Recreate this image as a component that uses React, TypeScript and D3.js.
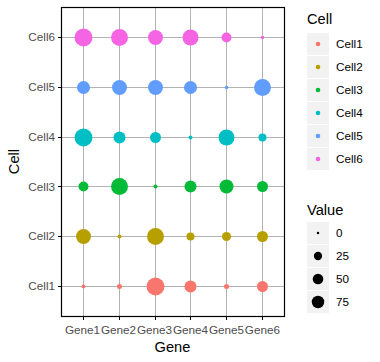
import React from "react";
import * as d3 from "d3";

const genes = ["Gene1", "Gene2", "Gene3", "Gene4", "Gene5", "Gene6"];
const cells = ["Cell1", "Cell2", "Cell3", "Cell4", "Cell5", "Cell6"];
const cellColors = ["#F8766D", "#B79F00", "#00BA38", "#00BFC4", "#619CFF", "#F564E3"];

// values per cell, in gene order
const cell1Values = [1.7, 4.7, 180, 68, 4.7, 54];
const cell2Values = [117, 1.7, 157, 23, 32, 54];
const cell3Values = [42, 157, 1.7, 68, 99, 54];
const cell4Values = [180, 68, 54, 1.7, 136, 23];
const cell5Values = [83, 117, 117, 83, 0.8, 157];
const cell6Values = [180, 157, 117, 136, 42, 0.8];
const cellValues = [cell1Values, cell2Values, cell3Values, cell4Values, cell5Values, cell6Values];

const sizeBreaks = [0, 25, 50, 75];

const W = 380;
const H = 362;
const panel = { left: 61, right: 284, top: 7, bottom: 316 };
const font = "'Liberation Sans', Arial, sans-serif";

export default function App() {
  const x = d3.scalePoint().domain(genes).range([panel.left, panel.right]).padding(0.6);
  const y = d3.scalePoint().domain(cells).range([panel.bottom, panel.top]).padding(0.6);
  const r = d3.scaleSqrt().domain([0, 180]).range([1.25, 9]);
  // snap hairlines onto pixel centres
  const px = (v: number) => Math.round(v) + 0.5;

  const points = cells.flatMap((c, i) =>
    genes.map((g, j) => ({ cell: c, gene: g, value: cellValues[i][j], color: cellColors[i] }))
  );

  const legX = 307;
  const keyW = 22;

  return (
    <svg width={W} height={H} style={{ position: "absolute", left: 0, top: 0 }} fontFamily={font}>
      <rect width={W} height={H} fill="#fff" />
      {/* grid */}
      {genes.map((g) => (
        <line key={g} x1={px(x(g)!)} x2={px(x(g)!)} y1={panel.top} y2={panel.bottom} stroke="#b3b3b3" strokeWidth={1} />
      ))}
      {cells.map((c) => (
        <line key={c} y1={px(y(c)!)} y2={px(y(c)!)} x1={panel.left} x2={panel.right} stroke="#b3b3b3" strokeWidth={1} />
      ))}
      {points.map((p) => (
        <circle key={p.cell + p.gene} cx={px(x(p.gene)!)} cy={px(y(p.cell)!)} r={r(p.value)} fill={p.color} />
      ))}
      <rect
        x={panel.left + 0.5}
        y={panel.top + 0.5}
        width={panel.right - panel.left}
        height={panel.bottom - panel.top}
        fill="none"
        stroke="#000"
        strokeWidth={1.2}
      />
      {/* x axis */}
      {genes.map((g) => (
        <g key={g}>
          <line x1={px(x(g)!)} x2={px(x(g)!)} y1={panel.bottom} y2={panel.bottom + 4} stroke="#000" />
          <text x={x(g)} y={334} textAnchor="middle" fontSize={11.7} fill="#4d4d4d">
            {g}
          </text>
        </g>
      ))}
      {/* y axis */}
      {cells.map((c) => (
        <g key={c}>
          <line x1={panel.left - 3} x2={panel.left} y1={px(y(c)!)} y2={px(y(c)!)} stroke="#000" />
          <text x={55} y={y(c)} dy="0.35em" textAnchor="end" fontSize={11.7} fill="#4d4d4d">
            {c}
          </text>
        </g>
      ))}
      <text x={(panel.left + panel.right) / 2} y={352} textAnchor="middle" fontSize={14.67} fill="#000">
        Gene
      </text>
      <text
        transform={`translate(19, ${(panel.top + panel.bottom) / 2}) rotate(-90)`}
        textAnchor="middle"
        fontSize={14.67}
        fill="#000"
      >
        Cell
      </text>

      {/* colour legend */}
      <text x={legX} y={24} fontSize={14.67} fill="#000">
        Cell
      </text>
      {cells.map((c, i) => {
        const cy = 44 + i * 23;
        return (
          <g key={c}>
            <rect x={legX} y={cy - 11} width={keyW} height={22} fill="#f2f2f2" />
            <circle cx={legX + keyW / 2} cy={cy} r={2.3} fill={cellColors[i]} />
            <text x={336} y={cy} dy="0.35em" fontSize={11.7} fill="#000">
              {c}
            </text>
          </g>
        );
      })}

      {/* size legend */}
      <text x={legX} y={215} fontSize={14.67} fill="#000">
        Value
      </text>
      {sizeBreaks.map((b, i) => {
        const cy = 233 + i * 23;
        return (
          <g key={b}>
            <rect x={legX} y={cy - 11} width={keyW} height={22} fill="#f2f2f2" />
            <circle cx={legX + keyW / 2} cy={cy} r={r(b)} fill="#000" />
            <text x={336} y={cy} dy="0.35em" fontSize={11.7} fill="#000">
              {b}
            </text>
          </g>
        );
      })}
    </svg>
  );
}
